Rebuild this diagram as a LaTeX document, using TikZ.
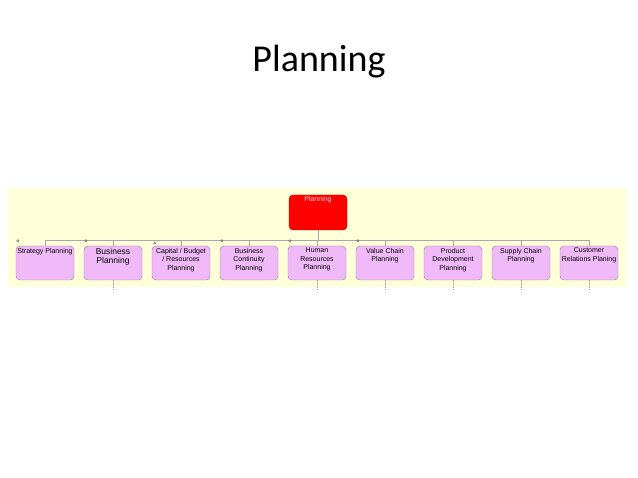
\documentclass[tikz,border=0pt]{standalone}
\usepackage{fontspec}
\setmainfont{Liberation Sans}
\newfontfamily\titlefont{Carlito}
\usepackage{tikz}
\definecolor{paper}{RGB}{255,255,217}
\definecolor{lilac}{RGB}{240,186,248}
\definecolor{lilacline}{RGB}{150,118,150}
\definecolor{boss}{RGB}{255,0,0}
\definecolor{bossline}{RGB}{190,0,0}
\definecolor{wire}{RGB}{168,168,168}
\newcommand{\boxlabel}[1]{\parbox[t][30pt][t]{58pt}{\centering #1}}

\begin{document}
\begin{tikzpicture}[x=1pt,
            y=-1pt,
            node distance=68pt,
            font=\fontsize{7}{8.5}\selectfont,
            unit/.style={draw=lilacline,fill=lilac,rounded corners=4pt,
                         inner xsep=0pt,inner ysep=2pt,minimum width=58pt},
            head/.style={draw=bossline,fill=boss,rounded corners=4pt,
                         minimum width=58pt,minimum height=35pt,
                         text=red!15,inner sep=1pt},
            link/.style={draw=wire,line width=0.6pt},
            tail/.style={draw=wire,line width=0.5pt,dash pattern=on 1.5pt off 1.5pt},
            tick/.style={draw=wire!70!black,line width=0.5pt}]

        \useasboundingbox (0,0) rectangle (638,478);
        \fill[paper] (8,188) rectangle (627,287);

        \node (title) at (319,62) {\titlefont\fontsize{38}{42}\selectfont Planning};

        \node[head]      (0) at (318,212.5) {\parbox[t][33pt][t]{56pt}{\centering Planning}};
        \node[unit]      (1) at (45,263)    {\boxlabel{Strategy Planning}};
        \node[unit]      (2) [right of=1]   {\boxlabel{\fontsize{8.5}{9.5}\selectfont Business\\Planning}};
        \node[unit]      (3) [right of=2]   {\boxlabel{Capital / Budget\\/ Resources\\Planning}};
        \node[unit]      (4) [right of=3]   {\boxlabel{Business\\Continuity\\Planning}};
        \node[unit]      (5) [right of=4]   {\boxlabel{Human\\Resources\\Planning}};
        \node[unit]      (6) [right of=5]   {\boxlabel{Value Chain\\Planning}};
        \node[unit]      (7) [right of=6]   {\boxlabel{Product\\Development\\Planning}};
        \node[unit]      (8) [right of=7]   {\boxlabel{Supply Chain\\Planning}};
        \node[unit]      (9) [right of=8]   {\boxlabel{Customer\\Relations Planing}};

        % tree lines
        \draw[link] (0.south) -- ++(0,10) coordinate (bar);
        \draw[link] (1.north) |- (bar) -| (9.north);
        \draw[link] (2.north) -- (2.north |- bar);
        \draw[link] (3.north) -- (3.north |- bar);
        \draw[link] (4.north) -- (4.north |- bar);
        \draw[link] (5.north) -- (5.north |- bar);
        \draw[link] (6.north) -- (6.north |- bar);
        \draw[link] (7.north) -- (7.north |- bar);
        \draw[link] (8.north) -- (8.north |- bar);

        % loose ends below
        \draw[tail] (2.south) -- ++(0,10);
        \draw[tail] (5.south) -- ++(0,10);
        \draw[tail] (6.south) -- ++(0,10);
        \draw[tail] (7.south) -- ++(0,10);
        \draw[tail] (8.south) -- ++(0,10);
        \draw[tail] (9.south) -- ++(0,10);

        % small markers
        \draw[tick] ([shift={(2,-5)}]1.north west) circle (1.2);
        \draw[tick] ([shift={(2,-5)}]2.north west) circle (1.2);
        \draw[tick] ([shift={(3,-4)}]3.north west) -- ++(-1.2,2.2) -- ++(2.4,0) -- cycle;
        \draw[tick] ([shift={(2,-5)}]4.north west) circle (1.2);
        \draw[tick] ([shift={(2,-5)}]5.north west) circle (1.2);
        \draw[tick] ([shift={(2,-5)}]6.north west) circle (1.2);

\end{tikzpicture}
\end{document}
